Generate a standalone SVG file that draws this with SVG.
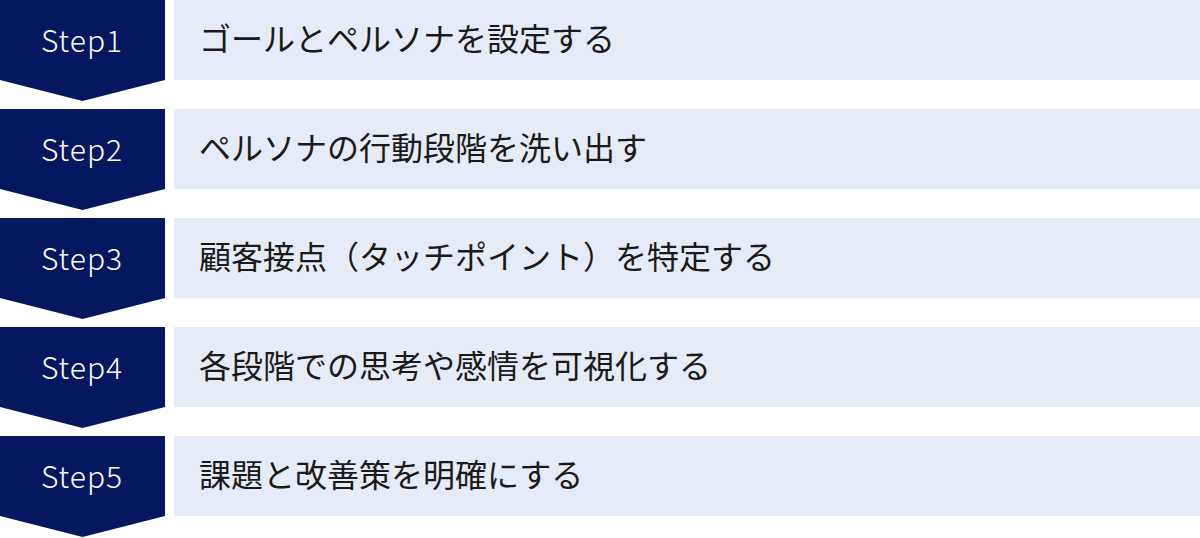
<svg xmlns="http://www.w3.org/2000/svg" width="1200" height="538" viewBox="0 0 1200 538">
<defs>
<style>
.chev{fill:#05185F}
.bar{fill:#E6EBF8}
.step{font-family:"Noto Sans CJK JP","Noto Sans",sans-serif;font-size:30px;font-weight:300;letter-spacing:1px;fill:#FFFFFF;text-anchor:middle}
.lbl{font-family:"Noto Sans CJK JP","Noto Sans",sans-serif;font-size:32px;font-weight:400;fill:#1A1A1A}
</style>
<path id="chevShape" class="chev" d="M0,0 H165 V80 L82.5,101 L0,80 Z"/>
</defs>
<rect width="1200" height="538" fill="#FFFFFF"/>
<g id="step1" transform="translate(0,0)">
<use href="#chevShape"/>
<rect class="bar" x="174" y="0" width="1026" height="80"/>
<text class="step" x="82" y="52">Step1</text>
<text class="lbl" x="199" y="51">ゴールとペルソナを設定する</text>
</g>
<g id="step2" transform="translate(0,109)">
<use href="#chevShape"/>
<rect class="bar" x="174" y="0" width="1026" height="80"/>
<text class="step" x="82" y="52">Step2</text>
<text class="lbl" x="199" y="51">ペルソナの行動段階を洗い出す</text>
</g>
<g id="step3" transform="translate(0,218)">
<use href="#chevShape"/>
<rect class="bar" x="174" y="0" width="1026" height="80"/>
<text class="step" x="82" y="52">Step3</text>
<text class="lbl" x="199" y="51">顧客接点（タッチポイント）を特定する</text>
</g>
<g id="step4" transform="translate(0,327)">
<use href="#chevShape"/>
<rect class="bar" x="174" y="0" width="1026" height="80"/>
<text class="step" x="82" y="52">Step4</text>
<text class="lbl" x="199" y="51">各段階での思考や感情を可視化する</text>
</g>
<g id="step5" transform="translate(0,436)">
<use href="#chevShape"/>
<rect class="bar" x="174" y="0" width="1026" height="80"/>
<text class="step" x="82" y="52">Step5</text>
<text class="lbl" x="199" y="51">課題と改善策を明確にする</text>
</g>
<g id="connectors"></g>
</svg>
